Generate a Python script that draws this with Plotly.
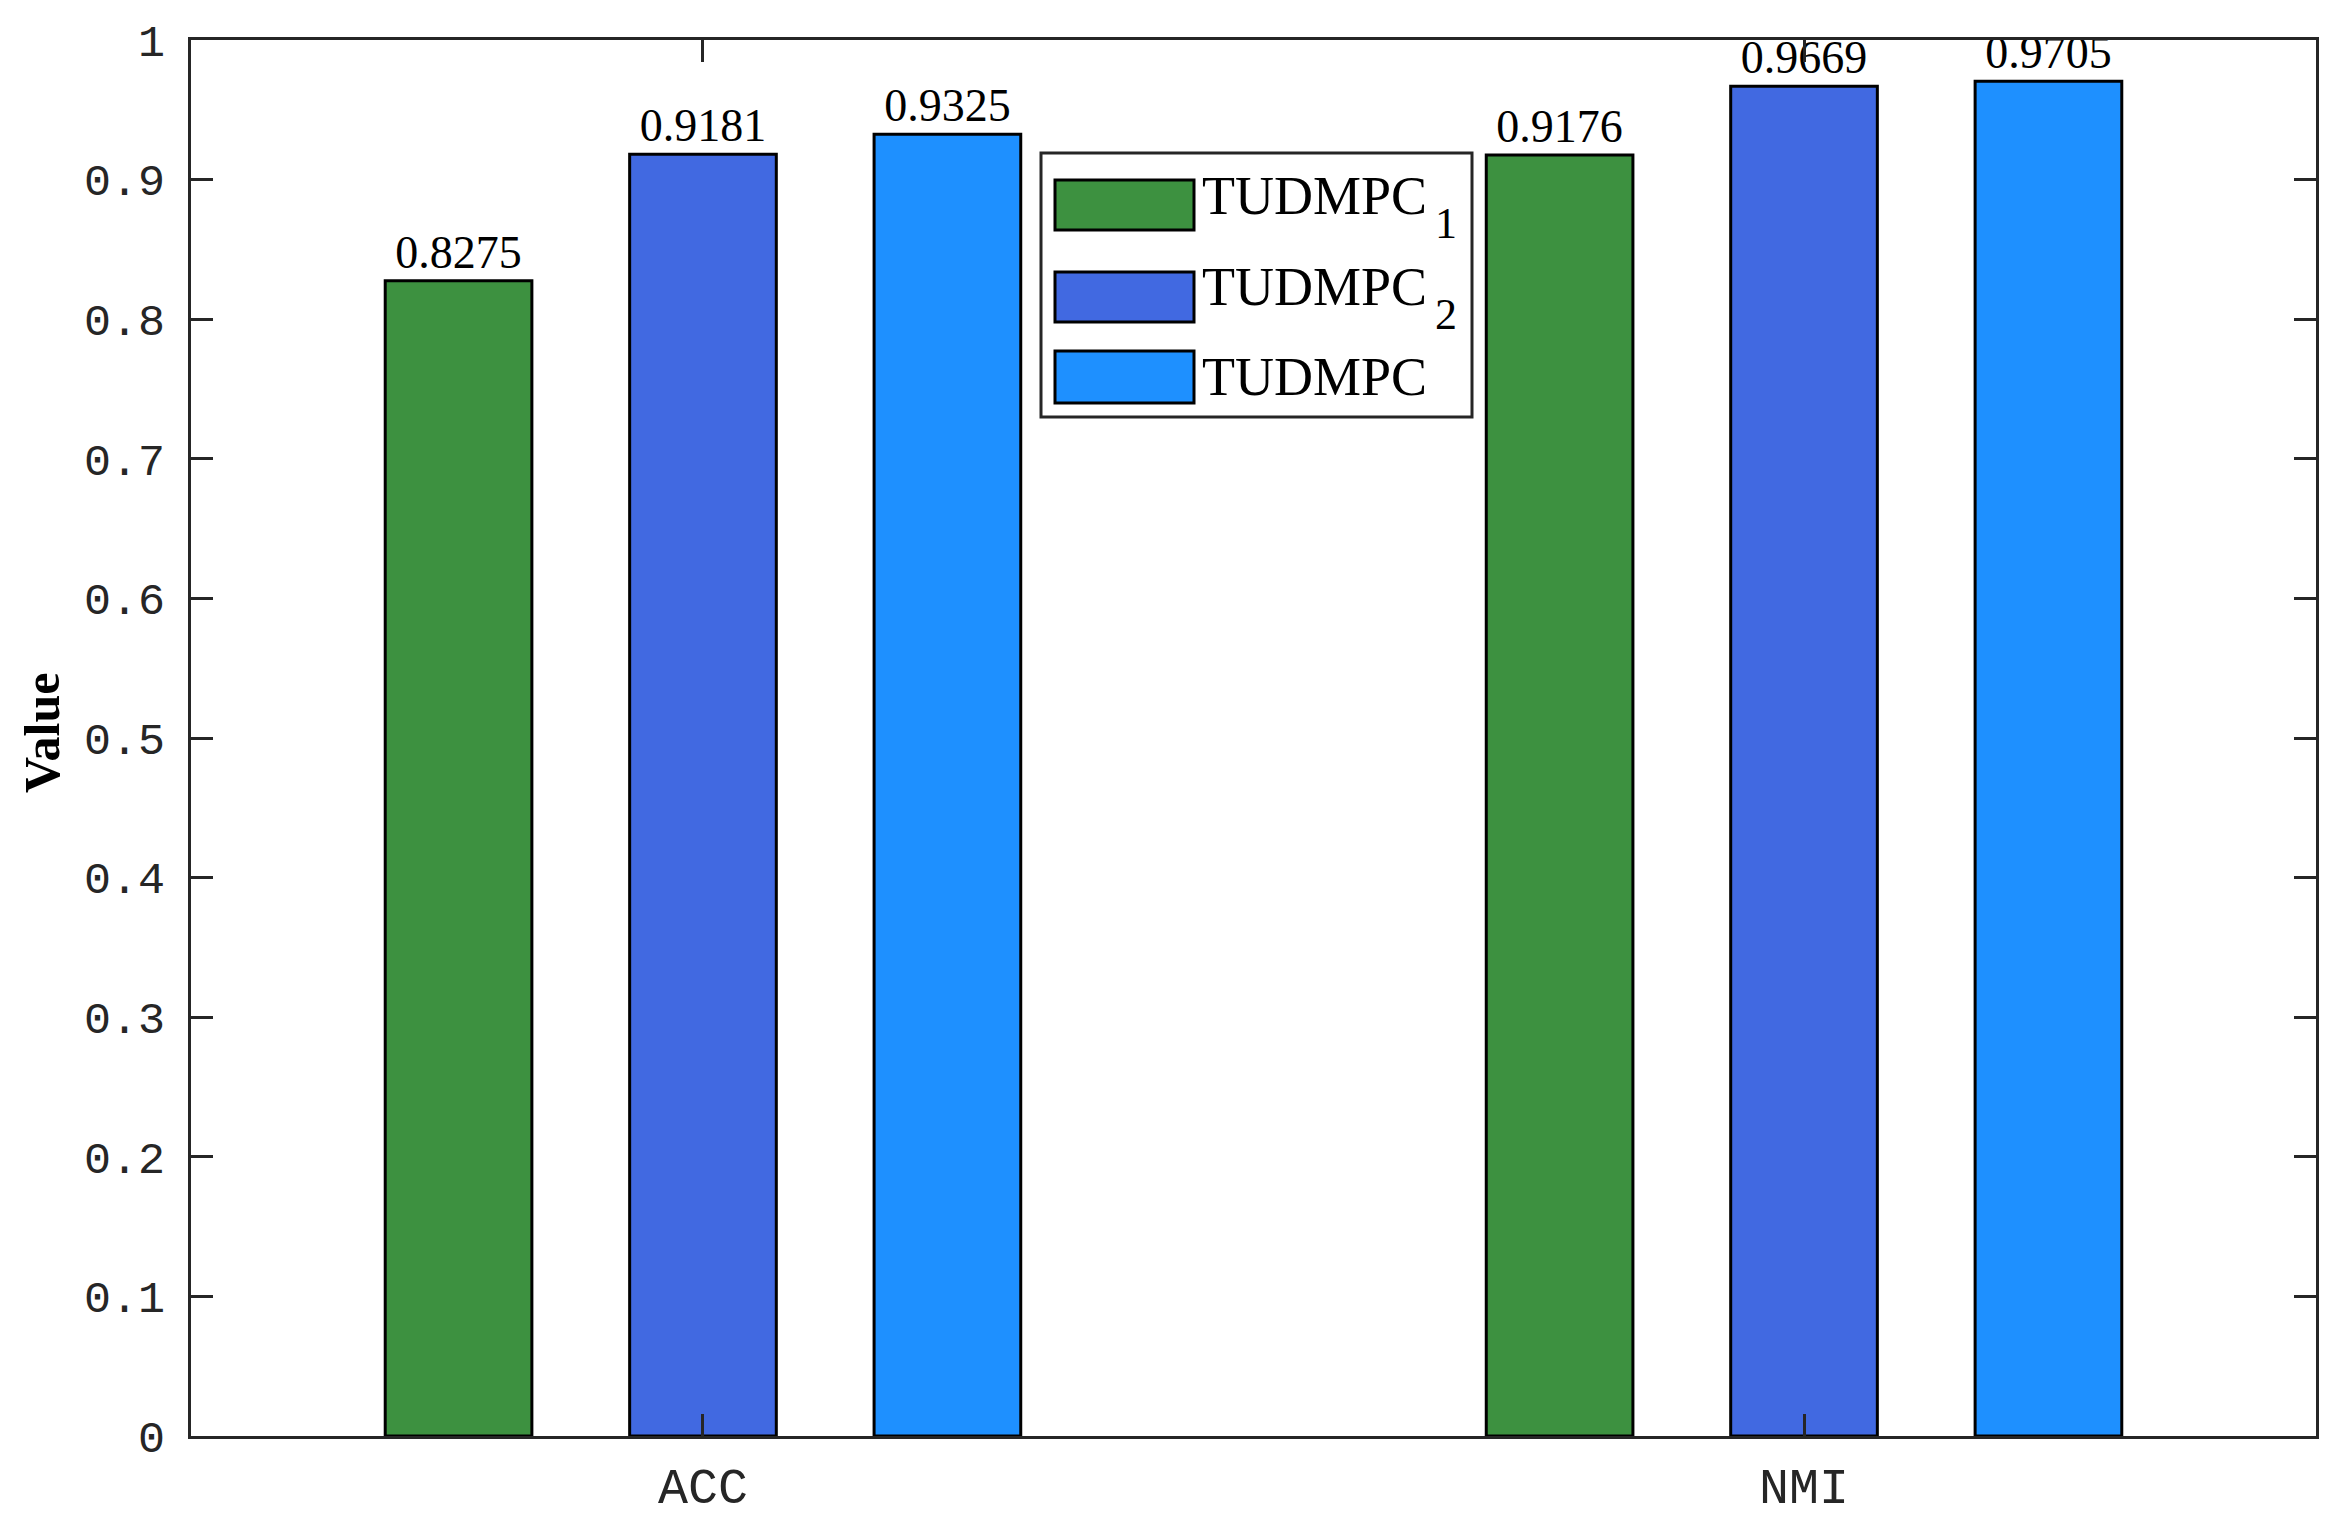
import plotly.graph_objects as go

# data
metrics = ["ACC", "NMI"]
series_names = ["TUDMPC<sub>1</sub>", "TUDMPC<sub>2</sub>", "TUDMPC"]
tudmpc1 = [0.8275, 0.9176]
tudmpc2 = [0.9181, 0.9669]
tudmpc = [0.9325, 0.9705]
series_values = [tudmpc1, tudmpc2, tudmpc]
series_colors = ["#3D9140", "#4169E1", "#1E90FF"]
y_ticks = [0, 0.1, 0.2, 0.3, 0.4, 0.5, 0.6, 0.7, 0.8, 0.9, 1]
y_ticktext = ["0", "0.1", "0.2", "0.3", "0.4", "0.5", "0.6", "0.7", "0.8", "0.9", "1"]

# page has an 8px body margin, so the figure is drawn 8px in from the corner
PAGE = 8
W, H = 2338 - 2 * PAGE, 1525 - 2 * PAGE
M_L, M_R, M_T, M_B = 191 - PAGE, 14, 40 - PAGE, 81
PW, PH = W - M_L - M_R, H - M_T - M_B
AXIS_COLOR = "#262626"
MONO = "Liberation Mono, Courier New, monospace"
SERIF = "Liberation Serif, Times New Roman, serif"


def px_x(x):
    # screenshot pixel -> paper x
    return (x - PAGE - M_L) / PW


def px_y(y):
    # screenshot pixel -> paper y
    return (H - M_B - (y - PAGE)) / PH


fig = go.Figure()
for name, vals, color in zip(series_names, series_values, series_colors):
    fig.add_trace(
        go.Bar(
            x=metrics,
            y=vals,
            name=name,
            marker=dict(color=color, line=dict(color="black", width=3)),
            texttemplate="%{y:.4f}",
            textposition="outside",
            textfont=dict(family=SERIF, size=46, color="black"),
            constraintext="none",
            cliponaxis=False,
            showlegend=False,
        )
    )

# hand-drawn legend box, MATLAB style (big swatches, low subscripts)
LEG_BOX = (1041, 1472, 153, 417)
SW_X = (1055, 1194)
ROWS = [(180, 230), (272, 322), (351, 403)]
TEXT_ROWS = [196, 287, 377]
TEXT_X = 1200
SUB_X = 1433
SUB_DROP = 27
shapes = [
    dict(
        type="rect", xref="paper", yref="paper",
        x0=px_x(LEG_BOX[0]), x1=px_x(LEG_BOX[1]),
        y0=px_y(LEG_BOX[3]), y1=px_y(LEG_BOX[2]),
        line=dict(color=AXIS_COLOR, width=3), fillcolor="white", layer="above",
    )
]
annotations = []
for (top, bot), ty, name, color in zip(ROWS, TEXT_ROWS, series_names, series_colors):
    shapes.append(
        dict(
            type="rect", xref="paper", yref="paper",
            x0=px_x(SW_X[0]), x1=px_x(SW_X[1]), y0=px_y(bot), y1=px_y(top),
            line=dict(color="black", width=3), fillcolor=color, layer="above",
        )
    )
    base, _, sub = name.partition("<sub>")
    annotations.append(
        dict(
            xref="paper", yref="paper", x=px_x(TEXT_X), y=px_y(ty),
            text=base, showarrow=False, xanchor="left", yanchor="middle",
            font=dict(family=SERIF, size=54, color="black"),
        )
    )
    if sub:
        annotations.append(
            dict(
                xref="paper", yref="paper", x=px_x(SUB_X), y=px_y(ty + SUB_DROP),
                text=sub.replace("</sub>", ""), showarrow=False,
                xanchor="left", yanchor="middle",
                font=dict(family=SERIF, size=44, color="black"),
            )
        )

annotations.append(
    dict(
        xref="paper", yref="paper", x=px_x(42), y=px_y(733),
        text="<b>Value</b>", showarrow=False, textangle=-90,
        xanchor="center", yanchor="middle",
        font=dict(family=SERIF, size=50, color="black"),
    )
)

axis_common = dict(
    showline=True, linecolor=AXIS_COLOR, linewidth=3, mirror="ticks",
    ticks="inside", ticklen=22, tickwidth=3, tickcolor=AXIS_COLOR,
    showgrid=False, zeroline=False,
)

fig.update_layout(
    width=W, height=H,
    margin=dict(l=M_L, r=M_R, t=M_T, b=M_B, autoexpand=False),
    paper_bgcolor="white", plot_bgcolor="white",
    barmode="group", bargap=0.334, bargroupgap=0.4,
    xaxis=dict(
        axis_common, type="category", range=[-0.465, 1.465], ticklabelstandoff=4,
        tickfont=dict(family=MONO, size=50, color=AXIS_COLOR),
    ),
    yaxis=dict(
        axis_common, range=[0, 1], tickvals=y_ticks, ticktext=y_ticktext,
        ticklabelstandoff=14,
        tickfont=dict(family=MONO, size=45, color=AXIS_COLOR),
    ),
    shapes=shapes,
    annotations=annotations,
)

fig.write_html("out.html")
